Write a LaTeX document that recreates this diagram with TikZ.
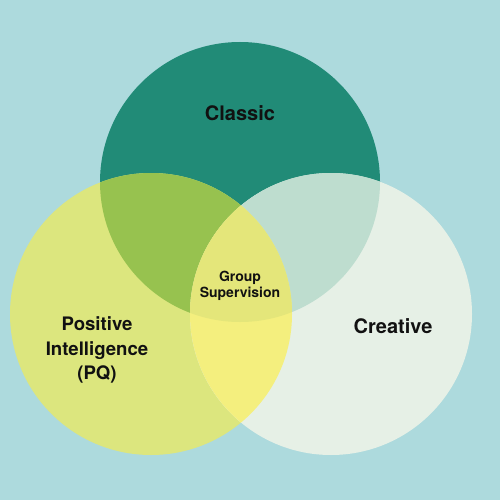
\documentclass[tikz,border=0pt]{standalone}
\usepackage{fontspec}
\setmainfont{TeX Gyre Heros}
\definecolor{bgblue}{HTML}{ADDADD}
\definecolor{classicgreen}{HTML}{218B77}
\definecolor{pqyellow}{HTML}{DCE67E}
\definecolor{creativewhite}{HTML}{E6F0E6}
\definecolor{classicpq}{HTML}{97C24F}
\definecolor{classiccreative}{HTML}{BEDDCF}
\definecolor{pqcreative}{HTML}{F4EF7E}
\definecolor{groupmix}{HTML}{E4E67A}
\definecolor{labeltext}{HTML}{111111}
\begin{document}
\begin{tikzpicture}[x=1pt,y=1pt,yscale=-1,xscale=1]
\tikzset{label/.style={inner sep=0pt,align=center,text=labeltext,font=\bfseries}}
\def\classicpath{(240,182) circle (140pt)}
\def\pqpath{(151,314) circle (141pt)}
\def\creativepath{(331,314) circle (141pt)}
\useasboundingbox (0,0) rectangle (500,500);
\fill [bgblue] (0,0) rectangle (500,500);
% single circles
\fill [classicgreen] \classicpath;
\fill [pqyellow] \pqpath;
\fill [creativewhite] \creativepath;
% pairwise overlaps
\begin{scope}
\clip \classicpath;
\fill [classicpq] \pqpath;
\fill [classiccreative] \creativepath;
\end{scope}
\begin{scope}
\clip \pqpath;
\fill [pqcreative] \creativepath;
\end{scope}
% centre
\begin{scope}
\clip \classicpath;
\clip \pqpath;
\fill [groupmix] \creativepath;
\end{scope}
\node (classic) [label,font=\fontsize{20}{24}\bfseries\selectfont] at (240,113) {Classic};
\node (creative) [label,font=\fontsize{20}{24}\bfseries\selectfont] at (393,326) {Creative};
\node (pq) [label,font=\fontsize{18.6}{24.5}\bfseries\selectfont] at (97,350) {Positive\\Intelligence\\(PQ)};
\node (group) [label,font=\fontsize{14}{16.5}\bfseries\selectfont] at (240,286) {Group\\Supervision};
\end{tikzpicture}
\end{document}
